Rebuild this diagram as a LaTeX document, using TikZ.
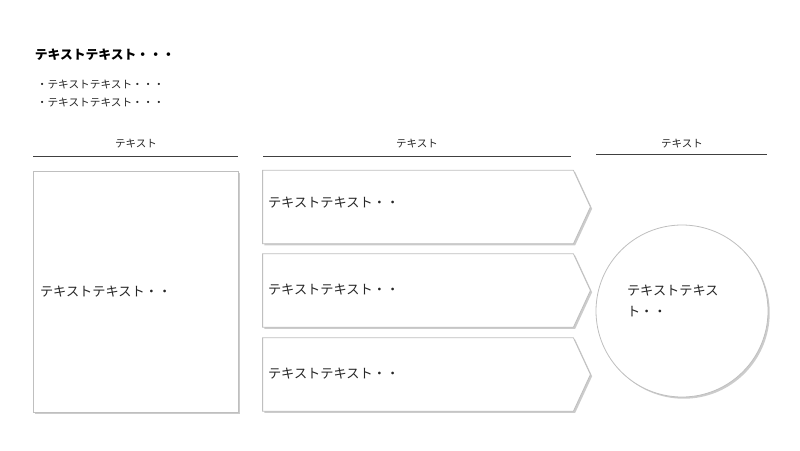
\documentclass[tikz,border=0pt]{standalone}
\usepackage{fontspec}
\setmainfont{Noto Sans CJK JP}
\usetikzlibrary{positioning,shadows}

\begin{document}
\begin{tikzpicture}[x=0.75pt,y=-0.75pt,node distance=0pt,semithick]
  \tikzstyle{heading}=[font=\fontsize{7.9}{9}\selectfont,text=black!85]
  \tikzstyle{rule}=[draw=black!75,line width=0.75pt]
  \tikzstyle{panel}=[draw=black!25,fill=white,line width=0.6pt,drop shadow={shadow xshift=1.3pt,shadow yshift=-1.3pt,opacity=0.4}]
  \tikzstyle{body}=[font=\fontsize{9.9}{15.75}\selectfont,text=black!85,align=left]
  \tikzstyle{bullet}=[anchor=west,font=\fontsize{8}{10}\selectfont,text=black!85]

  \useasboundingbox (0,0) rectangle (800,450);

  % title and notes
  \node[anchor=west,font=\bfseries\fontsize{9.6}{12}\selectfont] (title) at (30,55) {テキストテキスト・・・};
  \node[bullet] (note1) at (32,85)  {・テキストテキスト・・・};
  \node[bullet] (note2) at (32,103) {・テキストテキスト・・・};

  % column headings
  \node[heading] (head1) at (136,144) {テキスト};
  \node[heading] (head2) at (417,144) {テキスト};
  \node[heading] (head3) at (682,144) {テキスト};
  \coordinate (rule1a) at (33,156);  \coordinate (rule1b) at (238,156);
  \coordinate (rule2a) at (263,156); \coordinate (rule2b) at (571,156);
  \coordinate (rule3a) at (596,154); \coordinate (rule3b) at (767,154);
  \draw[rule] (rule1a) -- (rule1b);
  \draw[rule] (rule2a) -- (rule2b);
  \draw[rule] (rule3a) -- (rule3b);

  % left box
  \node[panel,body,minimum width=153.75pt,minimum height=180.75pt,text width=143.25pt] (left) at (135.5,291.5) {テキストテキスト・・};

  % steps
  \foreach \y/\t/\n in {207/203/1,290.5/290/2,374.5/374/3} {
    \node[minimum width=232.5pt,minimum height=54.5pt,inner sep=0pt] (step\n) at (418,\y) {};
    \draw[panel] (step\n.north west) -- (step\n.north east) -- ([xshift=12.75pt]step\n.east)
      -- (step\n.south east) -- (step\n.south west) -- cycle;
    \node[body,text width=225pt] (text\n) at (418,\t) {テキストテキスト・・};
  }

  % result
  \node[panel,circle,minimum size=129pt] (result) at (682,311) {};
  \node[body,text width=82.5pt] (resulttext) at (682,301) {テキストテキス\\ト・・};
\end{tikzpicture}
\end{document}
